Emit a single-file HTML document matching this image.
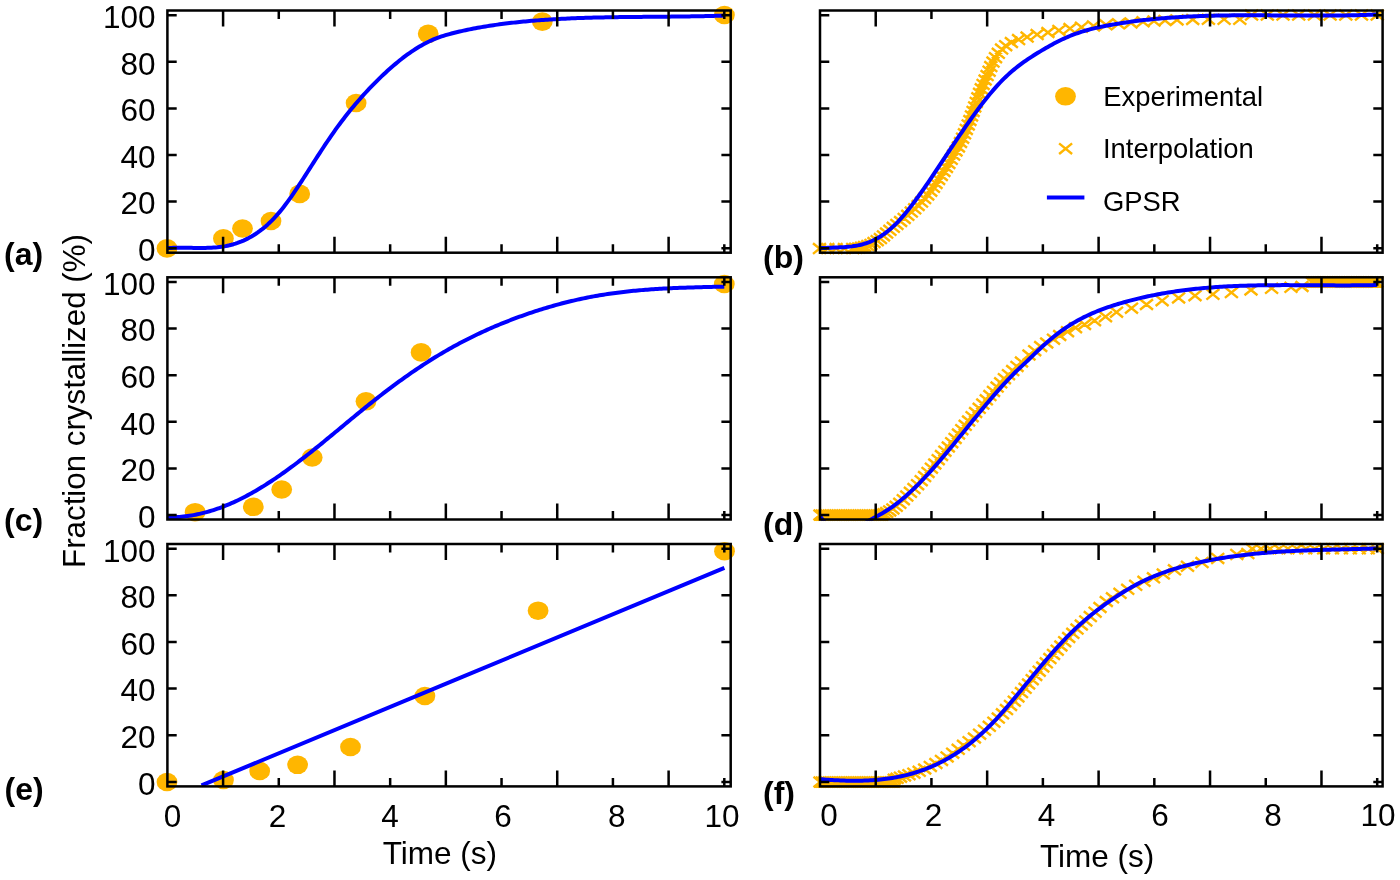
<!DOCTYPE html>
<html><head><meta charset="utf-8"><title>Fraction crystallized vs time</title>
<style>
html,body{margin:0;padding:0;background:#fff;}
svg{display:block;}
text{font-family:"Liberation Sans",Arial,Helvetica,sans-serif;fill:#000;}
</style></head>
<body>
<svg width="1400" height="880" viewBox="0 0 1400 880">
<rect width="1400" height="880" fill="#fff"/>
<defs>
<clipPath id="cl0"><rect x="166.1" y="9.2" width="565.90" height="244.80"/></clipPath>
<clipPath id="cr0"><rect x="818.7" y="9.2" width="565.20" height="244.80"/></clipPath>
<clipPath id="cl1"><rect x="166.1" y="276.0" width="565.90" height="244.80"/></clipPath>
<clipPath id="cr1"><rect x="818.7" y="276.0" width="565.20" height="244.80"/></clipPath>
<clipPath id="cl2"><rect x="166.1" y="542.7" width="565.90" height="245.00"/></clipPath>
<clipPath id="cr2"><rect x="818.7" y="542.7" width="565.20" height="245.00"/></clipPath>
</defs>
<ellipse cx="167.00" cy="248.40" rx="10.4" ry="9.3" fill="#FFB600"/>
<ellipse cx="223.40" cy="238.40" rx="10.4" ry="9.3" fill="#FFB600"/>
<ellipse cx="242.50" cy="228.50" rx="10.4" ry="9.3" fill="#FFB600"/>
<ellipse cx="271.00" cy="221.00" rx="10.4" ry="9.3" fill="#FFB600"/>
<ellipse cx="299.70" cy="193.90" rx="10.4" ry="9.3" fill="#FFB600"/>
<ellipse cx="356.10" cy="103.00" rx="10.4" ry="9.3" fill="#FFB600"/>
<ellipse cx="428.20" cy="33.80" rx="10.4" ry="9.3" fill="#FFB600"/>
<ellipse cx="542.30" cy="21.60" rx="10.4" ry="9.3" fill="#FFB600"/>
<ellipse cx="724.40" cy="15.00" rx="10.4" ry="9.3" fill="#FFB600"/>
<path d="M167.5 248.18L169.5 248.04L171.5 247.93L173.5 247.85L175.5 247.79L177.5 247.75L179.5 247.74L181.5 247.73L183.5 247.74L185.5 247.76L187.5 247.79L189.5 247.82L191.5 247.85L193.5 247.89L195.5 247.92L197.5 247.94L199.5 247.95L201.5 247.96L203.5 247.95L205.5 247.92L207.5 247.87L209.5 247.80L211.5 247.70L213.5 247.58L215.5 247.42L217.5 247.24L219.5 247.01L221.5 246.75L223.5 246.45L225.5 246.10L227.5 245.70L229.5 245.26L231.5 244.76L233.5 244.21L235.5 243.60L237.5 242.93L239.5 242.20L241.5 241.42L243.5 240.56L245.5 239.64L247.5 238.66L249.5 237.60L251.5 236.47L253.5 235.27L255.5 234.00L257.5 232.64L259.5 231.21L261.5 229.70L263.5 228.10L265.5 226.42L267.5 224.66L269.5 222.80L271.5 220.86L273.5 218.82L275.5 216.69L277.5 214.46L279.5 212.14L281.5 209.71L283.5 207.20L285.5 204.59L287.5 201.90L289.5 199.13L291.5 196.30L293.5 193.41L295.5 190.46L297.5 187.47L299.5 184.43L301.5 181.36L303.5 178.27L305.5 175.16L307.5 172.03L309.5 168.90L311.5 165.77L313.5 162.65L315.5 159.54L317.5 156.43L319.5 153.35L321.5 150.28L323.5 147.24L325.5 144.23L327.5 141.25L329.5 138.30L331.5 135.39L333.5 132.53L335.5 129.71L337.5 126.94L339.5 124.23L341.5 121.55L343.5 118.93L345.5 116.34L347.5 113.81L349.5 111.31L351.5 108.86L353.5 106.45L355.5 104.07L357.5 101.74L359.5 99.44L361.5 97.18L363.5 94.96L365.5 92.77L367.5 90.61L369.5 88.49L371.5 86.40L373.5 84.34L375.5 82.31L377.5 80.32L379.5 78.35L381.5 76.43L383.5 74.53L385.5 72.67L387.5 70.84L389.5 69.04L391.5 67.28L393.5 65.55L395.5 63.86L397.5 62.20L399.5 60.57L401.5 58.99L403.5 57.44L405.5 55.94L407.5 54.47L409.5 53.04L411.5 51.66L413.5 50.32L415.5 49.02L417.5 47.76L419.5 46.56L421.5 45.40L423.5 44.28L425.5 43.22L427.5 42.20L429.5 41.24L431.5 40.32L433.5 39.46L435.5 38.65L437.5 37.88L439.5 37.15L441.5 36.47L443.5 35.82L445.5 35.20L447.5 34.62L449.5 34.06L451.5 33.52L453.5 33.01L455.5 32.51L457.5 32.03L459.5 31.56L461.5 31.10L463.5 30.65L465.5 30.21L467.5 29.79L469.5 29.37L471.5 28.97L473.5 28.58L475.5 28.20L477.5 27.82L479.5 27.46L481.5 27.11L483.5 26.76L485.5 26.43L487.5 26.11L489.5 25.79L491.5 25.48L493.5 25.18L495.5 24.89L497.5 24.61L499.5 24.34L501.5 24.07L503.5 23.81L505.5 23.56L507.5 23.31L509.5 23.08L511.5 22.85L513.5 22.62L515.5 22.40L517.5 22.19L519.5 21.98L521.5 21.78L523.5 21.59L525.5 21.40L527.5 21.22L529.5 21.04L531.5 20.86L533.5 20.70L535.5 20.53L537.5 20.38L539.5 20.22L541.5 20.07L543.5 19.93L545.5 19.79L547.5 19.66L549.5 19.53L551.5 19.40L553.5 19.28L555.5 19.16L557.5 19.05L559.5 18.94L561.5 18.83L563.5 18.73L565.5 18.63L567.5 18.54L569.5 18.45L571.5 18.36L573.5 18.28L575.5 18.20L577.5 18.12L579.5 18.05L581.5 17.98L583.5 17.91L585.5 17.85L587.5 17.78L589.5 17.72L591.5 17.67L593.5 17.61L595.5 17.56L597.5 17.51L599.5 17.47L601.5 17.42L603.5 17.38L605.5 17.34L607.5 17.30L609.5 17.27L611.5 17.23L613.5 17.20L615.5 17.17L617.5 17.14L619.5 17.11L621.5 17.08L623.5 17.06L625.5 17.03L627.5 17.01L629.5 16.99L631.5 16.97L633.5 16.95L635.5 16.93L637.5 16.91L639.5 16.89L641.5 16.88L643.5 16.86L645.5 16.84L647.5 16.83L649.5 16.81L651.5 16.79L653.5 16.78L655.5 16.76L657.5 16.75L659.5 16.73L661.5 16.71L663.5 16.70L665.5 16.68L667.5 16.66L669.5 16.64L671.5 16.62L673.5 16.60L675.5 16.58L677.5 16.56L679.5 16.54L681.5 16.51L683.5 16.49L685.5 16.46L687.5 16.43L689.5 16.40L691.5 16.37L693.5 16.34L695.5 16.30L697.5 16.27L699.5 16.23L701.5 16.19L703.5 16.14L705.5 16.10L707.5 16.05L709.5 16.00L711.5 15.95L713.5 15.90L715.5 15.84L717.5 15.78L719.5 15.72L721.5 15.65L723.5 15.58L724.4 15.55" fill="none" stroke="#0000FF" stroke-width="4.0" stroke-linejoin="round" clip-path="url(#cl0)"/>
<rect x="167.4" y="10.5" width="563.30" height="242.20" fill="none" stroke="#000" stroke-width="2.5"/>
<path d="M223.09 10.5v16M223.09 252.7v-16M278.78 10.5v8.5M278.78 252.7v-8.5M334.47 10.5v16M334.47 252.7v-16M390.16 10.5v8.5M390.16 252.7v-8.5M445.85 10.5v16M445.85 252.7v-16M501.54 10.5v8.5M501.54 252.7v-8.5M557.23 10.5v16M557.23 252.7v-16M612.92 10.5v8.5M612.92 252.7v-8.5M668.61 10.5v16M668.61 252.7v-16M724.30 10.5v8.5M724.30 252.7v-8.5M167.4 248.20h9.3M730.7 248.20h-9.3M167.4 201.60h9.3M730.7 201.60h-9.3M167.4 155.00h9.3M730.7 155.00h-9.3M167.4 108.40h9.3M730.7 108.40h-9.3M167.4 61.80h9.3M730.7 61.80h-9.3M167.4 15.20h9.3M730.7 15.20h-9.3" fill="none" stroke="#000" stroke-width="2.5"/>
<ellipse cx="195.10" cy="512.20" rx="10.4" ry="9.3" fill="#FFB600"/>
<ellipse cx="253.30" cy="506.80" rx="10.4" ry="9.3" fill="#FFB600"/>
<ellipse cx="281.70" cy="489.50" rx="10.4" ry="9.3" fill="#FFB600"/>
<ellipse cx="312.20" cy="457.50" rx="10.4" ry="9.3" fill="#FFB600"/>
<ellipse cx="366.00" cy="401.30" rx="10.4" ry="9.3" fill="#FFB600"/>
<ellipse cx="421.10" cy="352.40" rx="10.4" ry="9.3" fill="#FFB600"/>
<ellipse cx="724.30" cy="284.00" rx="10.4" ry="9.3" fill="#FFB600"/>
<path d="M167.5 517.36L169.5 517.37L171.5 517.34L173.5 517.29L175.5 517.21L177.5 517.09L179.5 516.95L181.5 516.77L183.5 516.57L185.5 516.33L187.5 516.07L189.5 515.78L191.5 515.46L193.5 515.11L195.5 514.73L197.5 514.32L199.5 513.89L201.5 513.42L203.5 512.93L205.5 512.41L207.5 511.86L209.5 511.29L211.5 510.69L213.5 510.06L215.5 509.40L217.5 508.72L219.5 508.01L221.5 507.27L223.5 506.51L225.5 505.72L227.5 504.90L229.5 504.06L231.5 503.20L233.5 502.31L235.5 501.39L237.5 500.45L239.5 499.48L241.5 498.49L243.5 497.47L245.5 496.43L247.5 495.37L249.5 494.29L251.5 493.18L253.5 492.05L255.5 490.90L257.5 489.72L259.5 488.53L261.5 487.32L263.5 486.08L265.5 484.83L267.5 483.56L269.5 482.27L271.5 480.96L273.5 479.63L275.5 478.29L277.5 476.93L279.5 475.55L281.5 474.16L283.5 472.75L285.5 471.33L287.5 469.89L289.5 468.43L291.5 466.97L293.5 465.48L295.5 463.99L297.5 462.48L299.5 460.97L301.5 459.43L303.5 457.89L305.5 456.34L307.5 454.78L309.5 453.20L311.5 451.62L313.5 450.03L315.5 448.42L317.5 446.82L319.5 445.20L321.5 443.58L323.5 441.95L325.5 440.31L327.5 438.67L329.5 437.03L331.5 435.38L333.5 433.73L335.5 432.08L337.5 430.42L339.5 428.77L341.5 427.11L343.5 425.45L345.5 423.80L347.5 422.14L349.5 420.49L351.5 418.83L353.5 417.19L355.5 415.54L357.5 413.90L359.5 412.26L361.5 410.63L363.5 409.00L365.5 407.38L367.5 405.77L369.5 404.17L371.5 402.57L373.5 400.98L375.5 399.40L377.5 397.83L379.5 396.27L381.5 394.72L383.5 393.18L385.5 391.65L387.5 390.13L389.5 388.62L391.5 387.12L393.5 385.63L395.5 384.16L397.5 382.69L399.5 381.23L401.5 379.79L403.5 378.35L405.5 376.93L407.5 375.52L409.5 374.12L411.5 372.73L413.5 371.36L415.5 370.00L417.5 368.65L419.5 367.31L421.5 365.98L423.5 364.67L425.5 363.37L427.5 362.08L429.5 360.81L431.5 359.55L433.5 358.30L435.5 357.07L437.5 355.85L439.5 354.65L441.5 353.45L443.5 352.28L445.5 351.11L447.5 349.96L449.5 348.83L451.5 347.70L453.5 346.59L455.5 345.50L457.5 344.41L459.5 343.34L461.5 342.29L463.5 341.24L465.5 340.21L467.5 339.19L469.5 338.18L471.5 337.19L473.5 336.21L475.5 335.24L477.5 334.28L479.5 333.33L481.5 332.40L483.5 331.48L485.5 330.56L487.5 329.66L489.5 328.78L491.5 327.90L493.5 327.03L495.5 326.18L497.5 325.33L499.5 324.50L501.5 323.68L503.5 322.86L505.5 322.06L507.5 321.27L509.5 320.49L511.5 319.72L513.5 318.95L515.5 318.20L517.5 317.46L519.5 316.73L521.5 316.01L523.5 315.29L525.5 314.59L527.5 313.90L529.5 313.21L531.5 312.54L533.5 311.87L535.5 311.21L537.5 310.57L539.5 309.93L541.5 309.30L543.5 308.68L545.5 308.08L547.5 307.48L549.5 306.89L551.5 306.31L553.5 305.74L555.5 305.18L557.5 304.63L559.5 304.09L561.5 303.55L563.5 303.03L565.5 302.52L567.5 302.02L569.5 301.53L571.5 301.05L573.5 300.57L575.5 300.11L577.5 299.66L579.5 299.21L581.5 298.78L583.5 298.36L585.5 297.94L587.5 297.54L589.5 297.15L591.5 296.76L593.5 296.39L595.5 296.03L597.5 295.67L599.5 295.33L601.5 295.00L603.5 294.67L605.5 294.36L607.5 294.05L609.5 293.75L611.5 293.47L613.5 293.19L615.5 292.92L617.5 292.66L619.5 292.40L621.5 292.16L623.5 291.92L625.5 291.69L627.5 291.47L629.5 291.26L631.5 291.05L633.5 290.85L635.5 290.66L637.5 290.47L639.5 290.29L641.5 290.12L643.5 289.95L645.5 289.79L647.5 289.64L649.5 289.49L651.5 289.35L653.5 289.21L655.5 289.08L657.5 288.96L659.5 288.84L661.5 288.72L663.5 288.61L665.5 288.50L667.5 288.40L669.5 288.30L671.5 288.21L673.5 288.11L675.5 288.03L677.5 287.95L679.5 287.87L681.5 287.79L683.5 287.72L685.5 287.65L687.5 287.58L689.5 287.51L691.5 287.45L693.5 287.39L695.5 287.33L697.5 287.27L699.5 287.22L701.5 287.17L703.5 287.12L705.5 287.07L707.5 287.02L709.5 286.97L711.5 286.92L713.5 286.87L715.5 286.83L717.5 286.78L719.5 286.74L721.5 286.69L723.5 286.64L724.3 286.62" fill="none" stroke="#0000FF" stroke-width="4.0" stroke-linejoin="round" clip-path="url(#cl1)"/>
<rect x="167.4" y="277.3" width="563.30" height="242.20" fill="none" stroke="#000" stroke-width="2.5"/>
<path d="M223.09 277.3v16M223.09 519.5v-16M278.78 277.3v8.5M278.78 519.5v-8.5M334.47 277.3v16M334.47 519.5v-16M390.16 277.3v8.5M390.16 519.5v-8.5M445.85 277.3v16M445.85 519.5v-16M501.54 277.3v8.5M501.54 519.5v-8.5M557.23 277.3v16M557.23 519.5v-16M612.92 277.3v8.5M612.92 519.5v-8.5M668.61 277.3v16M668.61 519.5v-16M724.30 277.3v8.5M724.30 519.5v-8.5M167.4 515.00h9.3M730.7 515.00h-9.3M167.4 468.40h9.3M730.7 468.40h-9.3M167.4 421.80h9.3M730.7 421.80h-9.3M167.4 375.20h9.3M730.7 375.20h-9.3M167.4 328.60h9.3M730.7 328.60h-9.3M167.4 282.00h9.3M730.7 282.00h-9.3" fill="none" stroke="#000" stroke-width="2.5"/>
<ellipse cx="167.00" cy="782.00" rx="10.4" ry="9.3" fill="#FFB600"/>
<ellipse cx="223.50" cy="780.00" rx="10.4" ry="9.3" fill="#FFB600"/>
<ellipse cx="259.70" cy="771.00" rx="10.4" ry="9.3" fill="#FFB600"/>
<ellipse cx="297.60" cy="764.80" rx="10.4" ry="9.3" fill="#FFB600"/>
<ellipse cx="350.50" cy="747.00" rx="10.4" ry="9.3" fill="#FFB600"/>
<ellipse cx="424.90" cy="696.00" rx="10.4" ry="9.3" fill="#FFB600"/>
<ellipse cx="538.10" cy="610.70" rx="10.4" ry="9.3" fill="#FFB600"/>
<ellipse cx="724.50" cy="551.20" rx="10.4" ry="9.3" fill="#FFB600"/>
<path d="M201.50 785.40C288.65 749.15 637.25 604.15 724.40 567.90" fill="none" stroke="#0000FF" stroke-width="4.0" stroke-linejoin="round" clip-path="url(#cl2)"/>
<rect x="167.4" y="544.0" width="563.30" height="242.40" fill="none" stroke="#000" stroke-width="2.5"/>
<path d="M223.09 544.0v16M223.09 786.4v-16M278.78 544.0v8.5M278.78 786.4v-8.5M334.47 544.0v16M334.47 786.4v-16M390.16 544.0v8.5M390.16 786.4v-8.5M445.85 544.0v16M445.85 786.4v-16M501.54 544.0v8.5M501.54 786.4v-8.5M557.23 544.0v16M557.23 786.4v-16M612.92 544.0v8.5M612.92 786.4v-8.5M668.61 544.0v16M668.61 786.4v-16M724.30 544.0v8.5M724.30 786.4v-8.5M167.4 781.90h9.3M730.7 781.90h-9.3M167.4 735.26h9.3M730.7 735.26h-9.3M167.4 688.62h9.3M730.7 688.62h-9.3M167.4 641.98h9.3M730.7 641.98h-9.3M167.4 595.34h9.3M730.7 595.34h-9.3M167.4 548.70h9.3M730.7 548.70h-9.3" fill="none" stroke="#000" stroke-width="2.5"/>
<path d="M813.0 243.3l13.0 10.6m0 -10.6l-13.0 10.6M821.3 243.3l13.0 10.6m0 -10.6l-13.0 10.6M829.6 243.3l13.0 10.6m0 -10.6l-13.0 10.6M837.9 243.3l13.0 10.6m0 -10.6l-13.0 10.6M846.2 243.1l13.0 10.6m0 -10.6l-13.0 10.6M849.2 242.9l13.0 10.6m0 -10.6l-13.0 10.6M852.2 242.6l13.0 10.6m0 -10.6l-13.0 10.6M855.1 241.9l13.0 10.6m0 -10.6l-13.0 10.6M858.1 241.1l13.0 10.6m0 -10.6l-13.0 10.6M861.3 240.3l13.0 10.6m0 -10.6l-13.0 10.6M864.5 239.1l13.0 10.6m0 -10.6l-13.0 10.6M867.5 237.3l13.0 10.6m0 -10.6l-13.0 10.6M870.7 235.4l13.0 10.6m0 -10.6l-13.0 10.6M873.9 233.3l13.0 10.6m0 -10.6l-13.0 10.6M877.0 230.6l13.0 10.6m0 -10.6l-13.0 10.6M880.1 227.8l13.0 10.6m0 -10.6l-13.0 10.6M883.4 225.0l13.0 10.6m0 -10.6l-13.0 10.6M886.8 222.0l13.0 10.6m0 -10.6l-13.0 10.6M890.4 219.1l13.0 10.6m0 -10.6l-13.0 10.6M894.1 216.2l13.0 10.6m0 -10.6l-13.0 10.6M897.7 213.1l13.0 10.6m0 -10.6l-13.0 10.6M901.3 210.0l13.0 10.6m0 -10.6l-13.0 10.6M904.8 206.8l13.0 10.6m0 -10.6l-13.0 10.6M908.2 203.5l13.0 10.6m0 -10.6l-13.0 10.6M911.6 200.2l13.0 10.6m0 -10.6l-13.0 10.6M915.0 196.8l13.0 10.6m0 -10.6l-13.0 10.6M918.1 193.3l13.0 10.6m0 -10.6l-13.0 10.6M921.2 189.7l13.0 10.6m0 -10.6l-13.0 10.6M924.2 185.9l13.0 10.6m0 -10.6l-13.0 10.6M926.9 182.0l13.0 10.6m0 -10.6l-13.0 10.6M929.5 178.1l13.0 10.6m0 -10.6l-13.0 10.6M932.1 174.1l13.0 10.6m0 -10.6l-13.0 10.6M934.8 170.2l13.0 10.6m0 -10.6l-13.0 10.6M937.4 166.2l13.0 10.6m0 -10.6l-13.0 10.6M939.9 162.2l13.0 10.6m0 -10.6l-13.0 10.6M942.3 158.1l13.0 10.6m0 -10.6l-13.0 10.6M944.7 154.0l13.0 10.6m0 -10.6l-13.0 10.6M947.1 149.8l13.0 10.6m0 -10.6l-13.0 10.6M949.5 145.7l13.0 10.6m0 -10.6l-13.0 10.6M951.9 141.6l13.0 10.6m0 -10.6l-13.0 10.6M954.0 137.2l13.0 10.6m0 -10.6l-13.0 10.6M956.1 132.9l13.0 10.6m0 -10.6l-13.0 10.6M958.0 128.5l13.0 10.6m0 -10.6l-13.0 10.6M959.8 124.1l13.0 10.6m0 -10.6l-13.0 10.6M961.7 119.6l13.0 10.6m0 -10.6l-13.0 10.6M963.4 115.2l13.0 10.6m0 -10.6l-13.0 10.6M965.0 110.6l13.0 10.6m0 -10.6l-13.0 10.6M966.6 106.1l13.0 10.6m0 -10.6l-13.0 10.6M968.2 101.6l13.0 10.6m0 -10.6l-13.0 10.6M969.8 97.1l13.0 10.6m0 -10.6l-13.0 10.6M971.4 92.5l13.0 10.6m0 -10.6l-13.0 10.6M973.1 88.0l13.0 10.6m0 -10.6l-13.0 10.6M974.8 83.5l13.0 10.6m0 -10.6l-13.0 10.6M976.6 79.1l13.0 10.6m0 -10.6l-13.0 10.6M978.6 74.7l13.0 10.6m0 -10.6l-13.0 10.6M980.6 70.3l13.0 10.6m0 -10.6l-13.0 10.6M982.6 65.9l13.0 10.6m0 -10.6l-13.0 10.6M984.3 61.3l13.0 10.6m0 -10.6l-13.0 10.6M986.5 56.8l13.0 10.6m0 -10.6l-13.0 10.6M989.0 52.4l13.0 10.6m0 -10.6l-13.0 10.6M991.8 48.0l13.0 10.6m0 -10.6l-13.0 10.6M995.1 43.8l13.0 10.6m0 -10.6l-13.0 10.6M999.2 40.4l13.0 10.6m0 -10.6l-13.0 10.6M1004.9 37.2l13.0 10.6m0 -10.6l-13.0 10.6M1012.1 34.3l13.0 10.6m0 -10.6l-13.0 10.6M1020.6 31.8l13.0 10.6m0 -10.6l-13.0 10.6M1030.6 29.3l13.0 10.6m0 -10.6l-13.0 10.6M1041.4 27.2l13.0 10.6m0 -10.6l-13.0 10.6M1052.4 25.1l13.0 10.6m0 -10.6l-13.0 10.6M1063.5 23.3l13.0 10.6m0 -10.6l-13.0 10.6M1075.0 21.9l13.0 10.6m0 -10.6l-13.0 10.6M1087.0 20.6l13.0 10.6m0 -10.6l-13.0 10.6M1099.5 19.5l13.0 10.6m0 -10.6l-13.0 10.6M1112.0 18.5l13.0 10.6m0 -10.6l-13.0 10.6M1124.5 17.6l13.0 10.6m0 -10.6l-13.0 10.6M1136.5 16.5l13.0 10.6m0 -10.6l-13.0 10.6M1147.5 15.8l13.0 10.6m0 -10.6l-13.0 10.6M1158.5 15.1l13.0 10.6m0 -10.6l-13.0 10.6M1170.5 14.6l13.0 10.6m0 -10.6l-13.0 10.6M1186.2 14.2l13.0 10.6m0 -10.6l-13.0 10.6M1201.9 14.0l13.0 10.6m0 -10.6l-13.0 10.6M1217.6 14.0l13.0 10.6m0 -10.6l-13.0 10.6M1233.3 14.0l13.0 10.6m0 -10.6l-13.0 10.6M1370.7 9.8l13.0 10.6m0 -10.6l-13.0 10.6M1355.0 9.8l13.0 10.6m0 -10.6l-13.0 10.6M1339.3 9.8l13.0 10.6m0 -10.6l-13.0 10.6M1323.6 9.8l13.0 10.6m0 -10.6l-13.0 10.6M1307.9 9.8l13.0 10.6m0 -10.6l-13.0 10.6M1292.2 9.8l13.0 10.6m0 -10.6l-13.0 10.6M1276.5 9.8l13.0 10.6m0 -10.6l-13.0 10.6M1260.8 9.8l13.0 10.6m0 -10.6l-13.0 10.6M1245.1 9.8l13.0 10.6m0 -10.6l-13.0 10.6" fill="none" stroke="#FFB600" stroke-width="2.4"/>
<path d="M819.9 248.23L821.9 248.09L823.9 247.98L825.9 247.89L827.9 247.80L829.9 247.73L831.9 247.67L833.9 247.60L835.9 247.53L837.9 247.46L839.9 247.37L841.9 247.27L843.9 247.15L845.9 247.00L847.9 246.83L849.9 246.62L851.9 246.38L853.9 246.09L855.9 245.76L857.9 245.38L859.9 244.95L861.9 244.46L863.9 243.90L865.9 243.28L867.9 242.59L869.9 241.82L871.9 240.98L873.9 240.05L875.9 239.04L877.9 237.94L879.9 236.75L881.9 235.46L883.9 234.08L885.9 232.61L887.9 231.04L889.9 229.38L891.9 227.62L893.9 225.77L895.9 223.83L897.9 221.80L899.9 219.67L901.9 217.45L903.9 215.14L905.9 212.75L907.9 210.29L909.9 207.75L911.9 205.15L913.9 202.49L915.9 199.78L917.9 197.03L919.9 194.24L921.9 191.41L923.9 188.55L925.9 185.67L927.9 182.76L929.9 179.84L931.9 176.89L933.9 173.92L935.9 170.95L937.9 167.96L939.9 164.96L941.9 161.95L943.9 158.94L945.9 155.93L947.9 152.91L949.9 149.90L951.9 146.90L953.9 143.90L955.9 140.92L957.9 137.94L959.9 134.98L961.9 132.04L963.9 129.12L965.9 126.22L967.9 123.35L969.9 120.50L971.9 117.69L973.9 114.90L975.9 112.15L977.9 109.44L979.9 106.77L981.9 104.14L983.9 101.55L985.9 99.01L987.9 96.53L989.9 94.09L991.9 91.70L993.9 89.38L995.9 87.11L997.9 84.91L999.9 82.76L1001.9 80.69L1003.9 78.68L1005.9 76.75L1007.9 74.88L1009.9 73.08L1011.9 71.33L1013.9 69.65L1015.9 68.02L1017.9 66.44L1019.9 64.91L1021.9 63.43L1023.9 61.99L1025.9 60.59L1027.9 59.22L1029.9 57.89L1031.9 56.58L1033.9 55.30L1035.9 54.05L1037.9 52.82L1039.9 51.60L1041.9 50.40L1043.9 49.22L1045.9 48.05L1047.9 46.90L1049.9 45.78L1051.9 44.68L1053.9 43.60L1055.9 42.55L1057.9 41.52L1059.9 40.52L1061.9 39.56L1063.9 38.62L1065.9 37.72L1067.9 36.85L1069.9 36.02L1071.9 35.22L1073.9 34.46L1075.9 33.73L1077.9 33.03L1079.9 32.36L1081.9 31.72L1083.9 31.11L1085.9 30.52L1087.9 29.96L1089.9 29.42L1091.9 28.90L1093.9 28.41L1095.9 27.93L1097.9 27.48L1099.9 27.04L1101.9 26.62L1103.9 26.21L1105.9 25.82L1107.9 25.44L1109.9 25.07L1111.9 24.71L1113.9 24.36L1115.9 24.02L1117.9 23.69L1119.9 23.37L1121.9 23.05L1123.9 22.75L1125.9 22.45L1127.9 22.16L1129.9 21.87L1131.9 21.60L1133.9 21.33L1135.9 21.07L1137.9 20.81L1139.9 20.57L1141.9 20.33L1143.9 20.10L1145.9 19.87L1147.9 19.65L1149.9 19.44L1151.9 19.24L1153.9 19.04L1155.9 18.85L1157.9 18.66L1159.9 18.48L1161.9 18.31L1163.9 18.14L1165.9 17.98L1167.9 17.83L1169.9 17.68L1171.9 17.54L1173.9 17.40L1175.9 17.27L1177.9 17.14L1179.9 17.02L1181.9 16.90L1183.9 16.79L1185.9 16.68L1187.9 16.58L1189.9 16.48L1191.9 16.39L1193.9 16.30L1195.9 16.22L1197.9 16.14L1199.9 16.07L1201.9 16.00L1203.9 15.93L1205.9 15.87L1207.9 15.81L1209.9 15.75L1211.9 15.70L1213.9 15.66L1215.9 15.61L1217.9 15.57L1219.9 15.53L1221.9 15.50L1223.9 15.47L1225.9 15.44L1227.9 15.41L1229.9 15.39L1231.9 15.37L1233.9 15.35L1235.9 15.34L1237.9 15.33L1239.9 15.32L1241.9 15.31L1243.9 15.30L1245.9 15.30L1247.9 15.30L1249.9 15.30L1251.9 15.30L1253.9 15.30L1255.9 15.30L1257.9 15.31L1259.9 15.32L1261.9 15.33L1263.9 15.33L1265.9 15.34L1267.9 15.36L1269.9 15.37L1271.9 15.38L1273.9 15.39L1275.9 15.41L1277.9 15.42L1279.9 15.43L1281.9 15.45L1283.9 15.46L1285.9 15.48L1287.9 15.49L1289.9 15.51L1291.9 15.52L1293.9 15.53L1295.9 15.55L1297.9 15.56L1299.9 15.57L1301.9 15.58L1303.9 15.59L1305.9 15.60L1307.9 15.60L1309.9 15.61L1311.9 15.62L1313.9 15.62L1315.9 15.62L1317.9 15.62L1319.9 15.62L1321.9 15.62L1323.9 15.61L1325.9 15.60L1327.9 15.59L1329.9 15.58L1331.9 15.57L1333.9 15.55L1335.9 15.53L1337.9 15.51L1339.9 15.49L1341.9 15.46L1343.9 15.43L1345.9 15.40L1347.9 15.36L1349.9 15.32L1351.9 15.28L1353.9 15.23L1355.9 15.18L1357.9 15.13L1359.9 15.07L1361.9 15.01L1363.9 14.95L1365.9 14.88L1367.9 14.81L1369.9 14.73L1371.9 14.65L1373.9 14.56L1375.9 14.47L1377.2 14.41" fill="none" stroke="#0000FF" stroke-width="4.0" stroke-linejoin="round" clip-path="url(#cr0)"/>
<rect x="820.0" y="10.5" width="562.60" height="242.20" fill="none" stroke="#000" stroke-width="2.5"/>
<path d="M875.72 10.5v16M875.72 252.7v-16M931.44 10.5v8.5M931.44 252.7v-8.5M987.16 10.5v16M987.16 252.7v-16M1042.88 10.5v8.5M1042.88 252.7v-8.5M1098.60 10.5v16M1098.60 252.7v-16M1154.32 10.5v8.5M1154.32 252.7v-8.5M1210.04 10.5v16M1210.04 252.7v-16M1265.76 10.5v8.5M1265.76 252.7v-8.5M1321.48 10.5v16M1321.48 252.7v-16M1377.20 10.5v8.5M1377.20 252.7v-8.5M820.0 248.20h9.3M1382.6 248.20h-9.3M820.0 201.60h9.3M1382.6 201.60h-9.3M820.0 155.00h9.3M1382.6 155.00h-9.3M820.0 108.40h9.3M1382.6 108.40h-9.3M820.0 61.80h9.3M1382.6 61.80h-9.3M820.0 15.20h9.3M1382.6 15.20h-9.3" fill="none" stroke="#000" stroke-width="2.5"/>
<path d="M813.5 509.7l13.0 10.6m0 -10.6l-13.0 10.6M815.8 509.7l13.0 10.6m0 -10.6l-13.0 10.6M818.1 509.7l13.0 10.6m0 -10.6l-13.0 10.6M820.4 509.7l13.0 10.6m0 -10.6l-13.0 10.6M822.7 509.7l13.0 10.6m0 -10.6l-13.0 10.6M825.0 509.7l13.0 10.6m0 -10.6l-13.0 10.6M827.3 509.7l13.0 10.6m0 -10.6l-13.0 10.6M829.6 509.7l13.0 10.6m0 -10.6l-13.0 10.6M831.9 509.7l13.0 10.6m0 -10.6l-13.0 10.6M834.2 509.7l13.0 10.6m0 -10.6l-13.0 10.6M836.5 509.7l13.0 10.6m0 -10.6l-13.0 10.6M838.8 509.7l13.0 10.6m0 -10.6l-13.0 10.6M841.1 509.7l13.0 10.6m0 -10.6l-13.0 10.6M843.4 509.7l13.0 10.6m0 -10.6l-13.0 10.6M845.7 509.7l13.0 10.6m0 -10.6l-13.0 10.6M848.0 509.7l13.0 10.6m0 -10.6l-13.0 10.6M850.3 509.7l13.0 10.6m0 -10.6l-13.0 10.6M852.6 509.7l13.0 10.6m0 -10.6l-13.0 10.6M854.9 509.7l13.0 10.6m0 -10.6l-13.0 10.6M857.2 509.7l13.0 10.6m0 -10.6l-13.0 10.6M859.5 509.7l13.0 10.6m0 -10.6l-13.0 10.6M861.8 509.7l13.0 10.6m0 -10.6l-13.0 10.6M864.1 509.7l13.0 10.6m0 -10.6l-13.0 10.6M866.4 509.7l13.0 10.6m0 -10.6l-13.0 10.6M868.7 509.7l13.0 10.6m0 -10.6l-13.0 10.6M871.0 509.7l13.0 10.6m0 -10.6l-13.0 10.6M873.3 509.7l13.0 10.6m0 -10.6l-13.0 10.6M875.6 509.7l13.0 10.6m0 -10.6l-13.0 10.6M877.5 508.5l13.0 10.6m0 -10.6l-13.0 10.6M880.2 507.2l13.0 10.6m0 -10.6l-13.0 10.6M883.2 505.6l13.0 10.6m0 -10.6l-13.0 10.6M886.4 503.6l13.0 10.6m0 -10.6l-13.0 10.6M889.7 501.0l13.0 10.6m0 -10.6l-13.0 10.6M893.3 498.0l13.0 10.6m0 -10.6l-13.0 10.6M896.8 494.4l13.0 10.6m0 -10.6l-13.0 10.6M900.3 490.8l13.0 10.6m0 -10.6l-13.0 10.6M903.9 487.0l13.0 10.6m0 -10.6l-13.0 10.6M907.5 483.3l13.0 10.6m0 -10.6l-13.0 10.6M911.1 479.4l13.0 10.6m0 -10.6l-13.0 10.6M914.7 475.4l13.0 10.6m0 -10.6l-13.0 10.6M918.1 471.3l13.0 10.6m0 -10.6l-13.0 10.6M921.5 467.1l13.0 10.6m0 -10.6l-13.0 10.6M924.9 462.9l13.0 10.6m0 -10.6l-13.0 10.6M928.3 458.7l13.0 10.6m0 -10.6l-13.0 10.6M931.7 454.4l13.0 10.6m0 -10.6l-13.0 10.6M935.0 450.2l13.0 10.6m0 -10.6l-13.0 10.6M938.4 445.9l13.0 10.6m0 -10.6l-13.0 10.6M941.8 441.7l13.0 10.6m0 -10.6l-13.0 10.6M945.2 437.4l13.0 10.6m0 -10.6l-13.0 10.6M948.6 433.1l13.0 10.6m0 -10.6l-13.0 10.6M952.0 428.7l13.0 10.6m0 -10.6l-13.0 10.6M955.3 424.4l13.0 10.6m0 -10.6l-13.0 10.6M958.7 420.0l13.0 10.6m0 -10.6l-13.0 10.6M962.1 415.7l13.0 10.6m0 -10.6l-13.0 10.6M965.6 411.4l13.0 10.6m0 -10.6l-13.0 10.6M969.1 407.2l13.0 10.6m0 -10.6l-13.0 10.6M972.7 403.0l13.0 10.6m0 -10.6l-13.0 10.6M976.3 398.8l13.0 10.6m0 -10.6l-13.0 10.6M979.8 394.5l13.0 10.6m0 -10.6l-13.0 10.6M983.4 390.3l13.0 10.6m0 -10.6l-13.0 10.6M987.0 386.1l13.0 10.6m0 -10.6l-13.0 10.6M990.6 381.8l13.0 10.6m0 -10.6l-13.0 10.6M994.2 377.5l13.0 10.6m0 -10.6l-13.0 10.6M997.9 373.4l13.0 10.6m0 -10.6l-13.0 10.6M1002.0 369.4l13.0 10.6m0 -10.6l-13.0 10.6M1006.2 365.3l13.0 10.6m0 -10.6l-13.0 10.6M1010.5 361.1l13.0 10.6m0 -10.6l-13.0 10.6M1015.0 356.7l13.0 10.6m0 -10.6l-13.0 10.6M1305.5 276.8l13.0 10.6m0 -10.6l-13.0 10.6M1307.9 276.8l13.0 10.6m0 -10.6l-13.0 10.6M1310.3 276.8l13.0 10.6m0 -10.6l-13.0 10.6M1312.7 276.8l13.0 10.6m0 -10.6l-13.0 10.6M1315.1 276.8l13.0 10.6m0 -10.6l-13.0 10.6M1317.5 276.8l13.0 10.6m0 -10.6l-13.0 10.6M1319.9 276.8l13.0 10.6m0 -10.6l-13.0 10.6M1322.3 276.8l13.0 10.6m0 -10.6l-13.0 10.6M1324.7 276.8l13.0 10.6m0 -10.6l-13.0 10.6M1327.1 276.8l13.0 10.6m0 -10.6l-13.0 10.6M1329.5 276.8l13.0 10.6m0 -10.6l-13.0 10.6M1331.9 276.8l13.0 10.6m0 -10.6l-13.0 10.6M1334.3 276.8l13.0 10.6m0 -10.6l-13.0 10.6M1336.7 276.8l13.0 10.6m0 -10.6l-13.0 10.6M1339.1 276.8l13.0 10.6m0 -10.6l-13.0 10.6M1341.5 276.8l13.0 10.6m0 -10.6l-13.0 10.6M1343.9 276.8l13.0 10.6m0 -10.6l-13.0 10.6M1346.3 276.8l13.0 10.6m0 -10.6l-13.0 10.6M1348.7 276.8l13.0 10.6m0 -10.6l-13.0 10.6M1351.1 276.8l13.0 10.6m0 -10.6l-13.0 10.6M1353.5 276.8l13.0 10.6m0 -10.6l-13.0 10.6M1355.9 276.8l13.0 10.6m0 -10.6l-13.0 10.6M1358.3 276.8l13.0 10.6m0 -10.6l-13.0 10.6M1360.7 276.8l13.0 10.6m0 -10.6l-13.0 10.6M1363.1 276.8l13.0 10.6m0 -10.6l-13.0 10.6M1365.5 276.8l13.0 10.6m0 -10.6l-13.0 10.6M1367.9 276.8l13.0 10.6m0 -10.6l-13.0 10.6M1370.3 276.8l13.0 10.6m0 -10.6l-13.0 10.6M1022.5 349.7l13.0 10.6m0 -10.6l-13.0 10.6M1028.2 345.4l13.0 10.6m0 -10.6l-13.0 10.6M1034.2 341.2l13.0 10.6m0 -10.6l-13.0 10.6M1040.2 337.7l13.0 10.6m0 -10.6l-13.0 10.6M1047.0 333.9l13.0 10.6m0 -10.6l-13.0 10.6M1053.2 330.2l13.0 10.6m0 -10.6l-13.0 10.6M1061.0 326.4l13.0 10.6m0 -10.6l-13.0 10.6M1069.0 322.4l13.0 10.6m0 -10.6l-13.0 10.6M1078.0 319.2l13.0 10.6m0 -10.6l-13.0 10.6M1088.0 315.4l13.0 10.6m0 -10.6l-13.0 10.6M1099.0 311.4l13.0 10.6m0 -10.6l-13.0 10.6M1110.0 306.9l13.0 10.6m0 -10.6l-13.0 10.6M1125.0 302.9l13.0 10.6m0 -10.6l-13.0 10.6M1140.0 299.2l13.0 10.6m0 -10.6l-13.0 10.6M1155.6 295.4l13.0 10.6m0 -10.6l-13.0 10.6M1172.1 292.6l13.0 10.6m0 -10.6l-13.0 10.6M1188.5 290.4l13.0 10.6m0 -10.6l-13.0 10.6M1206.4 289.0l13.0 10.6m0 -10.6l-13.0 10.6M1224.9 287.3l13.0 10.6m0 -10.6l-13.0 10.6M1244.5 284.7l13.0 10.6m0 -10.6l-13.0 10.6M1265.1 283.0l13.0 10.6m0 -10.6l-13.0 10.6M1284.5 282.0l13.0 10.6m0 -10.6l-13.0 10.6M1295.5 281.2l13.0 10.6m0 -10.6l-13.0 10.6" fill="none" stroke="#FFB600" stroke-width="2.4"/>
<path d="M820.0 516.33L822.0 518.83L824.0 521.55L826.0 524.31L828.0 526.94L830.0 529.28L832.0 531.18L834.0 532.64L836.0 533.71L838.0 534.40L840.0 534.74L842.0 534.78L844.0 534.54L846.0 534.05L848.0 533.34L850.0 532.45L852.0 531.41L854.0 530.24L856.0 528.99L858.0 527.67L860.0 526.33L862.0 524.98L864.0 523.68L866.0 522.43L868.0 521.24L870.0 520.09L872.0 518.97L874.0 517.87L876.0 516.78L878.0 515.68L880.0 514.57L882.0 513.44L884.0 512.26L886.0 511.03L888.0 509.75L890.0 508.42L892.0 507.03L894.0 505.58L896.0 504.09L898.0 502.55L900.0 500.95L902.0 499.31L904.0 497.62L906.0 495.89L908.0 494.10L910.0 492.28L912.0 490.41L914.0 488.50L916.0 486.55L918.0 484.56L920.0 482.53L922.0 480.46L924.0 478.36L926.0 476.22L928.0 474.05L930.0 471.86L932.0 469.63L934.0 467.38L936.0 465.10L938.0 462.80L940.0 460.47L942.0 458.13L944.0 455.76L946.0 453.38L948.0 450.99L950.0 448.57L952.0 446.15L954.0 443.72L956.0 441.27L958.0 438.82L960.0 436.36L962.0 433.90L964.0 431.43L966.0 428.97L968.0 426.50L970.0 424.03L972.0 421.57L974.0 419.12L976.0 416.67L978.0 414.23L980.0 411.79L982.0 409.37L984.0 406.97L986.0 404.57L988.0 402.20L990.0 399.84L992.0 397.50L994.0 395.18L996.0 392.89L998.0 390.62L1000.0 388.37L1002.0 386.16L1004.0 383.97L1006.0 381.81L1008.0 379.69L1010.0 377.60L1012.0 375.54L1014.0 373.52L1016.0 371.54L1018.0 369.61L1020.0 367.71L1022.0 365.85L1024.0 364.01L1026.0 362.15L1028.0 360.25L1030.0 358.29L1032.0 356.32L1034.0 354.36L1036.0 352.44L1038.0 350.54L1040.0 348.67L1042.0 346.82L1044.0 345.01L1046.0 343.23L1048.0 341.49L1050.0 339.78L1052.0 338.11L1054.0 336.48L1056.0 334.89L1058.0 333.35L1060.0 331.85L1062.0 330.39L1064.0 328.99L1066.0 327.62L1068.0 326.30L1070.0 325.02L1072.0 323.79L1074.0 322.59L1076.0 321.43L1078.0 320.31L1080.0 319.22L1082.0 318.17L1084.0 317.16L1086.0 316.18L1088.0 315.23L1090.0 314.31L1092.0 313.42L1094.0 312.56L1096.0 311.72L1098.0 310.91L1100.0 310.13L1102.0 309.37L1104.0 308.63L1106.0 307.92L1108.0 307.22L1110.0 306.55L1112.0 305.89L1114.0 305.25L1116.0 304.63L1118.0 304.02L1120.0 303.42L1122.0 302.84L1124.0 302.27L1126.0 301.71L1128.0 301.16L1130.0 300.63L1132.0 300.11L1134.0 299.59L1136.0 299.09L1138.0 298.61L1140.0 298.13L1142.0 297.66L1144.0 297.21L1146.0 296.76L1148.0 296.33L1150.0 295.91L1152.0 295.50L1154.0 295.09L1156.0 294.70L1158.0 294.32L1160.0 293.95L1162.0 293.59L1164.0 293.24L1166.0 292.90L1168.0 292.56L1170.0 292.24L1172.0 291.93L1174.0 291.62L1176.0 291.32L1178.0 291.04L1180.0 290.76L1182.0 290.49L1184.0 290.23L1186.0 289.98L1188.0 289.73L1190.0 289.49L1192.0 289.27L1194.0 289.04L1196.0 288.83L1198.0 288.63L1200.0 288.43L1202.0 288.24L1204.0 288.05L1206.0 287.88L1208.0 287.71L1210.0 287.54L1212.0 287.39L1214.0 287.24L1216.0 287.09L1218.0 286.96L1220.0 286.83L1222.0 286.70L1224.0 286.58L1226.0 286.47L1228.0 286.36L1230.0 286.26L1232.0 286.16L1234.0 286.07L1236.0 285.99L1238.0 285.90L1240.0 285.83L1242.0 285.76L1244.0 285.69L1246.0 285.63L1248.0 285.57L1250.0 285.51L1252.0 285.46L1254.0 285.42L1256.0 285.38L1258.0 285.34L1260.0 285.30L1262.0 285.27L1264.0 285.24L1266.0 285.22L1268.0 285.20L1270.0 285.18L1272.0 285.16L1274.0 285.15L1276.0 285.14L1278.0 285.13L1280.0 285.13L1282.0 285.12L1284.0 285.12L1286.0 285.12L1288.0 285.12L1290.0 285.13L1292.0 285.13L1294.0 285.14L1296.0 285.15L1298.0 285.16L1300.0 285.17L1302.0 285.18L1304.0 285.19L1306.0 285.20L1308.0 285.21L1310.0 285.23L1312.0 285.24L1314.0 285.26L1316.0 285.27L1318.0 285.28L1320.0 285.30L1322.0 285.31L1324.0 285.32L1326.0 285.33L1328.0 285.34L1330.0 285.35L1332.0 285.36L1334.0 285.37L1336.0 285.38L1338.0 285.38L1340.0 285.39L1342.0 285.39L1344.0 285.39L1346.0 285.39L1348.0 285.38L1350.0 285.38L1352.0 285.37L1354.0 285.36L1356.0 285.35L1358.0 285.33L1360.0 285.31L1362.0 285.29L1364.0 285.27L1366.0 285.24L1368.0 285.21L1370.0 285.17L1372.0 285.13L1374.0 285.09L1376.0 285.05L1377.2 285.02" fill="none" stroke="#0000FF" stroke-width="4.0" stroke-linejoin="round" clip-path="url(#cr1)"/>
<rect x="820.0" y="277.3" width="562.60" height="242.20" fill="none" stroke="#000" stroke-width="2.5"/>
<path d="M875.72 277.3v16M875.72 519.5v-16M931.44 277.3v8.5M931.44 519.5v-8.5M987.16 277.3v16M987.16 519.5v-16M1042.88 277.3v8.5M1042.88 519.5v-8.5M1098.60 277.3v16M1098.60 519.5v-16M1154.32 277.3v8.5M1154.32 519.5v-8.5M1210.04 277.3v16M1210.04 519.5v-16M1265.76 277.3v8.5M1265.76 519.5v-8.5M1321.48 277.3v16M1321.48 519.5v-16M1377.20 277.3v8.5M1377.20 519.5v-8.5M820.0 515.00h9.3M1382.6 515.00h-9.3M820.0 468.40h9.3M1382.6 468.40h-9.3M820.0 421.80h9.3M1382.6 421.80h-9.3M820.0 375.20h9.3M1382.6 375.20h-9.3M820.0 328.60h9.3M1382.6 328.60h-9.3M820.0 282.00h9.3M1382.6 282.00h-9.3" fill="none" stroke="#000" stroke-width="2.5"/>
<path d="M813.5 776.7l13.0 10.6m0 -10.6l-13.0 10.6M815.8 776.7l13.0 10.6m0 -10.6l-13.0 10.6M818.1 776.7l13.0 10.6m0 -10.6l-13.0 10.6M820.4 776.7l13.0 10.6m0 -10.6l-13.0 10.6M822.7 776.7l13.0 10.6m0 -10.6l-13.0 10.6M825.0 776.7l13.0 10.6m0 -10.6l-13.0 10.6M827.3 776.7l13.0 10.6m0 -10.6l-13.0 10.6M829.6 776.7l13.0 10.6m0 -10.6l-13.0 10.6M831.9 776.7l13.0 10.6m0 -10.6l-13.0 10.6M834.2 776.7l13.0 10.6m0 -10.6l-13.0 10.6M836.5 776.7l13.0 10.6m0 -10.6l-13.0 10.6M838.8 776.7l13.0 10.6m0 -10.6l-13.0 10.6M841.1 776.7l13.0 10.6m0 -10.6l-13.0 10.6M843.4 776.7l13.0 10.6m0 -10.6l-13.0 10.6M845.7 776.7l13.0 10.6m0 -10.6l-13.0 10.6M848.0 776.7l13.0 10.6m0 -10.6l-13.0 10.6M850.3 776.7l13.0 10.6m0 -10.6l-13.0 10.6M852.6 776.7l13.0 10.6m0 -10.6l-13.0 10.6M854.9 776.7l13.0 10.6m0 -10.6l-13.0 10.6M857.2 776.7l13.0 10.6m0 -10.6l-13.0 10.6M859.5 776.7l13.0 10.6m0 -10.6l-13.0 10.6M861.8 776.7l13.0 10.6m0 -10.6l-13.0 10.6M864.1 776.7l13.0 10.6m0 -10.6l-13.0 10.6M866.4 776.7l13.0 10.6m0 -10.6l-13.0 10.6M868.7 776.7l13.0 10.6m0 -10.6l-13.0 10.6M871.0 776.7l13.0 10.6m0 -10.6l-13.0 10.6M873.3 776.7l13.0 10.6m0 -10.6l-13.0 10.6M875.6 776.7l13.0 10.6m0 -10.6l-13.0 10.6M877.9 776.7l13.0 10.6m0 -10.6l-13.0 10.6M880.2 776.7l13.0 10.6m0 -10.6l-13.0 10.6M882.5 776.7l13.0 10.6m0 -10.6l-13.0 10.6M884.8 776.7l13.0 10.6m0 -10.6l-13.0 10.6M887.1 776.7l13.0 10.6m0 -10.6l-13.0 10.6M887.8 773.9l13.0 10.6m0 -10.6l-13.0 10.6M890.6 773.0l13.0 10.6m0 -10.6l-13.0 10.6M894.0 771.9l13.0 10.6m0 -10.6l-13.0 10.6M898.0 770.7l13.0 10.6m0 -10.6l-13.0 10.6M902.5 769.4l13.0 10.6m0 -10.6l-13.0 10.6M907.4 767.9l13.0 10.6m0 -10.6l-13.0 10.6M912.7 766.0l13.0 10.6m0 -10.6l-13.0 10.6M918.2 763.7l13.0 10.6m0 -10.6l-13.0 10.6M923.8 761.1l13.0 10.6m0 -10.6l-13.0 10.6M929.4 758.2l13.0 10.6m0 -10.6l-13.0 10.6M935.0 755.1l13.0 10.6m0 -10.6l-13.0 10.6M940.6 751.6l13.0 10.6m0 -10.6l-13.0 10.6M946.2 747.9l13.0 10.6m0 -10.6l-13.0 10.6M951.7 744.0l13.0 10.6m0 -10.6l-13.0 10.6M957.0 740.0l13.0 10.6m0 -10.6l-13.0 10.6M962.6 736.4l13.0 10.6m0 -10.6l-13.0 10.6M967.9 732.7l13.0 10.6m0 -10.6l-13.0 10.6M973.1 728.9l13.0 10.6m0 -10.6l-13.0 10.6M978.0 724.9l13.0 10.6m0 -10.6l-13.0 10.6M982.8 721.0l13.0 10.6m0 -10.6l-13.0 10.6M987.4 716.9l13.0 10.6m0 -10.6l-13.0 10.6M991.8 712.8l13.0 10.6m0 -10.6l-13.0 10.6M996.0 708.5l13.0 10.6m0 -10.6l-13.0 10.6M1000.0 704.3l13.0 10.6m0 -10.6l-13.0 10.6M1004.0 700.1l13.0 10.6m0 -10.6l-13.0 10.6M1007.8 695.9l13.0 10.6m0 -10.6l-13.0 10.6M1011.4 691.6l13.0 10.6m0 -10.6l-13.0 10.6M1015.0 687.3l13.0 10.6m0 -10.6l-13.0 10.6M1018.6 683.0l13.0 10.6m0 -10.6l-13.0 10.6M1022.1 678.7l13.0 10.6m0 -10.6l-13.0 10.6M1025.7 674.4l13.0 10.6m0 -10.6l-13.0 10.6M1029.2 670.2l13.0 10.6m0 -10.6l-13.0 10.6M1032.7 665.9l13.0 10.6m0 -10.6l-13.0 10.6M1036.3 661.7l13.0 10.6m0 -10.6l-13.0 10.6M1039.8 657.5l13.0 10.6m0 -10.6l-13.0 10.6M1043.4 653.3l13.0 10.6m0 -10.6l-13.0 10.6M1047.0 649.1l13.0 10.6m0 -10.6l-13.0 10.6M1050.7 644.9l13.0 10.6m0 -10.6l-13.0 10.6M1054.4 640.7l13.0 10.6m0 -10.6l-13.0 10.6M1058.2 636.4l13.0 10.6m0 -10.6l-13.0 10.6M1062.2 632.2l13.0 10.6m0 -10.6l-13.0 10.6M1066.3 628.0l13.0 10.6m0 -10.6l-13.0 10.6M1070.5 623.8l13.0 10.6m0 -10.6l-13.0 10.6M1074.8 619.7l13.0 10.6m0 -10.6l-13.0 10.6M1079.3 615.6l13.0 10.6m0 -10.6l-13.0 10.6M1083.8 611.3l13.0 10.6m0 -10.6l-13.0 10.6M1088.6 606.9l13.0 10.6m0 -10.6l-13.0 10.6M1093.5 602.2l13.0 10.6m0 -10.6l-13.0 10.6M1099.8 596.2l13.0 10.6m0 -10.6l-13.0 10.6M1106.0 592.5l13.0 10.6m0 -10.6l-13.0 10.6M1113.5 588.0l13.0 10.6m0 -10.6l-13.0 10.6M1121.2 584.0l13.0 10.6m0 -10.6l-13.0 10.6M1129.2 580.0l13.0 10.6m0 -10.6l-13.0 10.6M1137.5 576.0l13.0 10.6m0 -10.6l-13.0 10.6M1147.0 572.5l13.0 10.6m0 -10.6l-13.0 10.6M1156.8 568.7l13.0 10.6m0 -10.6l-13.0 10.6M1168.0 564.5l13.0 10.6m0 -10.6l-13.0 10.6M1181.0 561.0l13.0 10.6m0 -10.6l-13.0 10.6M1195.5 557.3l13.0 10.6m0 -10.6l-13.0 10.6M1211.2 553.1l13.0 10.6m0 -10.6l-13.0 10.6M1230.3 549.1l13.0 10.6m0 -10.6l-13.0 10.6M1241.3 548.3l13.0 10.6m0 -10.6l-13.0 10.6M1370.7 543.4l13.0 10.6m0 -10.6l-13.0 10.6M1361.8 543.4l13.0 10.6m0 -10.6l-13.0 10.6M1352.8 543.4l13.0 10.6m0 -10.6l-13.0 10.6M1343.9 543.4l13.0 10.6m0 -10.6l-13.0 10.6M1335.0 543.4l13.0 10.6m0 -10.6l-13.0 10.6M1326.0 543.4l13.0 10.6m0 -10.6l-13.0 10.6M1317.1 543.4l13.0 10.6m0 -10.6l-13.0 10.6M1308.2 543.4l13.0 10.6m0 -10.6l-13.0 10.6M1299.3 543.4l13.0 10.6m0 -10.6l-13.0 10.6M1290.3 543.4l13.0 10.6m0 -10.6l-13.0 10.6M1281.4 543.4l13.0 10.6m0 -10.6l-13.0 10.6M1272.5 543.4l13.0 10.6m0 -10.6l-13.0 10.6M1263.5 543.4l13.0 10.6m0 -10.6l-13.0 10.6M1254.6 543.4l13.0 10.6m0 -10.6l-13.0 10.6M1245.7 543.4l13.0 10.6m0 -10.6l-13.0 10.6" fill="none" stroke="#FFB600" stroke-width="2.4"/>
<path d="M820.3 779.21L822.3 779.36L824.3 779.50L826.3 779.64L828.3 779.78L830.3 779.90L832.3 780.02L834.3 780.14L836.3 780.24L838.3 780.34L840.3 780.43L842.3 780.50L844.3 780.57L846.3 780.63L848.3 780.68L850.3 780.71L852.3 780.74L854.3 780.75L856.3 780.75L858.3 780.74L860.3 780.71L862.3 780.66L864.3 780.61L866.3 780.53L868.3 780.45L870.3 780.34L872.3 780.22L874.3 780.08L876.3 779.92L878.3 779.75L880.3 779.55L882.3 779.34L884.3 779.11L886.3 778.85L888.3 778.58L890.3 778.28L892.3 777.97L894.3 777.63L896.3 777.26L898.3 776.88L900.3 776.47L902.3 776.03L904.3 775.58L906.3 775.09L908.3 774.58L910.3 774.05L912.3 773.48L914.3 772.89L916.3 772.27L918.3 771.63L920.3 770.95L922.3 770.25L924.3 769.51L926.3 768.75L928.3 767.95L930.3 767.12L932.3 766.27L934.3 765.37L936.3 764.45L938.3 763.49L940.3 762.50L942.3 761.48L944.3 760.42L946.3 759.32L948.3 758.19L950.3 757.02L952.3 755.82L954.3 754.58L956.3 753.30L958.3 751.98L960.3 750.62L962.3 749.23L964.3 747.79L966.3 746.31L968.3 744.80L970.3 743.24L972.3 741.64L974.3 740.00L976.3 738.31L978.3 736.58L980.3 734.81L982.3 733.00L984.3 731.13L986.3 729.23L988.3 727.27L990.3 725.28L992.3 723.23L994.3 721.14L996.3 719.01L998.3 716.84L1000.3 714.64L1002.3 712.40L1004.3 710.13L1006.3 707.83L1008.3 705.51L1010.3 703.16L1012.3 700.79L1014.3 698.41L1016.3 696.00L1018.3 693.59L1020.3 691.16L1022.3 688.72L1024.3 686.28L1026.3 683.84L1028.3 681.39L1030.3 678.95L1032.3 676.51L1034.3 674.08L1036.3 671.65L1038.3 669.24L1040.3 666.84L1042.3 664.46L1044.3 662.10L1046.3 659.76L1048.3 657.44L1050.3 655.14L1052.3 652.87L1054.3 650.62L1056.3 648.39L1058.3 646.20L1060.3 644.03L1062.3 641.90L1064.3 639.79L1066.3 637.73L1068.3 635.69L1070.3 633.69L1072.3 631.73L1074.3 629.81L1076.3 627.92L1078.3 626.07L1080.3 624.25L1082.3 622.47L1084.3 620.72L1086.3 619.00L1088.3 617.32L1090.3 615.66L1092.3 614.04L1094.3 612.44L1096.3 610.87L1098.3 609.33L1100.3 607.82L1102.3 606.33L1104.3 604.87L1106.3 603.43L1108.3 602.02L1110.3 600.63L1112.3 599.25L1114.3 597.90L1116.3 596.58L1118.3 595.27L1120.3 593.99L1122.3 592.74L1124.3 591.50L1126.3 590.29L1128.3 589.11L1130.3 587.95L1132.3 586.82L1134.3 585.71L1136.3 584.63L1138.3 583.58L1140.3 582.56L1142.3 581.56L1144.3 580.59L1146.3 579.65L1148.3 578.73L1150.3 577.84L1152.3 576.97L1154.3 576.13L1156.3 575.31L1158.3 574.52L1160.3 573.75L1162.3 573.00L1164.3 572.27L1166.3 571.56L1168.3 570.88L1170.3 570.21L1172.3 569.56L1174.3 568.93L1176.3 568.32L1178.3 567.73L1180.3 567.15L1182.3 566.59L1184.3 566.04L1186.3 565.51L1188.3 565.00L1190.3 564.50L1192.3 564.01L1194.3 563.53L1196.3 563.07L1198.3 562.62L1200.3 562.18L1202.3 561.75L1204.3 561.33L1206.3 560.92L1208.3 560.52L1210.3 560.13L1212.3 559.76L1214.3 559.39L1216.3 559.03L1218.3 558.68L1220.3 558.34L1222.3 558.01L1224.3 557.68L1226.3 557.37L1228.3 557.06L1230.3 556.77L1232.3 556.48L1234.3 556.20L1236.3 555.93L1238.3 555.66L1240.3 555.41L1242.3 555.16L1244.3 554.92L1246.3 554.69L1248.3 554.46L1250.3 554.24L1252.3 554.03L1254.3 553.83L1256.3 553.63L1258.3 553.44L1260.3 553.25L1262.3 553.07L1264.3 552.90L1266.3 552.73L1268.3 552.57L1270.3 552.41L1272.3 552.26L1274.3 552.12L1276.3 551.98L1278.3 551.84L1280.3 551.72L1282.3 551.59L1284.3 551.47L1286.3 551.35L1288.3 551.24L1290.3 551.14L1292.3 551.03L1294.3 550.93L1296.3 550.84L1298.3 550.75L1300.3 550.66L1302.3 550.57L1304.3 550.49L1306.3 550.41L1308.3 550.34L1310.3 550.27L1312.3 550.20L1314.3 550.13L1316.3 550.06L1318.3 550.00L1320.3 549.94L1322.3 549.88L1324.3 549.82L1326.3 549.76L1328.3 549.71L1330.3 549.66L1332.3 549.60L1334.3 549.55L1336.3 549.50L1338.3 549.45L1340.3 549.41L1342.3 549.36L1344.3 549.31L1346.3 549.26L1348.3 549.21L1350.3 549.16L1352.3 549.12L1354.3 549.07L1356.3 549.02L1358.3 548.97L1360.3 548.92L1362.3 548.86L1364.3 548.81L1366.3 548.76L1368.3 548.70L1370.3 548.64L1372.3 548.58L1374.3 548.52L1376.3 548.46L1377.2 548.43" fill="none" stroke="#0000FF" stroke-width="4.0" stroke-linejoin="round" clip-path="url(#cr2)"/>
<rect x="820.0" y="544.0" width="562.60" height="242.40" fill="none" stroke="#000" stroke-width="2.5"/>
<path d="M875.72 544.0v16M875.72 786.4v-16M931.44 544.0v8.5M931.44 786.4v-8.5M987.16 544.0v16M987.16 786.4v-16M1042.88 544.0v8.5M1042.88 786.4v-8.5M1098.60 544.0v16M1098.60 786.4v-16M1154.32 544.0v8.5M1154.32 786.4v-8.5M1210.04 544.0v16M1210.04 786.4v-16M1265.76 544.0v8.5M1265.76 786.4v-8.5M1321.48 544.0v16M1321.48 786.4v-16M1377.20 544.0v8.5M1377.20 786.4v-8.5M820.0 781.90h9.3M1382.6 781.90h-9.3M820.0 735.26h9.3M1382.6 735.26h-9.3M820.0 688.62h9.3M1382.6 688.62h-9.3M820.0 641.98h9.3M1382.6 641.98h-9.3M820.0 595.34h9.3M1382.6 595.34h-9.3M820.0 548.70h9.3M1382.6 548.70h-9.3" fill="none" stroke="#000" stroke-width="2.5"/>
<text x="155.6" y="261.0" font-size="31.5" text-anchor="end">0</text>
<text x="155.6" y="214.4" font-size="31.5" text-anchor="end">20</text>
<text x="155.6" y="167.8" font-size="31.5" text-anchor="end">40</text>
<text x="155.6" y="121.2" font-size="31.5" text-anchor="end">60</text>
<text x="155.6" y="74.6" font-size="31.5" text-anchor="end">80</text>
<text x="155.6" y="28.0" font-size="31.5" text-anchor="end">100</text>
<text x="155.6" y="527.8" font-size="31.5" text-anchor="end">0</text>
<text x="155.6" y="481.2" font-size="31.5" text-anchor="end">20</text>
<text x="155.6" y="434.6" font-size="31.5" text-anchor="end">40</text>
<text x="155.6" y="388.0" font-size="31.5" text-anchor="end">60</text>
<text x="155.6" y="341.4" font-size="31.5" text-anchor="end">80</text>
<text x="155.6" y="294.8" font-size="31.5" text-anchor="end">100</text>
<text x="155.6" y="794.7" font-size="31.5" text-anchor="end">0</text>
<text x="155.6" y="748.06" font-size="31.5" text-anchor="end">20</text>
<text x="155.6" y="701.42" font-size="31.5" text-anchor="end">40</text>
<text x="155.6" y="654.78" font-size="31.5" text-anchor="end">60</text>
<text x="155.6" y="608.14" font-size="31.5" text-anchor="end">80</text>
<text x="155.6" y="561.5" font-size="31.5" text-anchor="end">100</text>
<text x="172.5" y="826.7" font-size="31.5" text-anchor="middle">0</text>
<text x="829.1" y="826.2" font-size="31.5" text-anchor="middle">0</text>
<text x="277.5" y="826.7" font-size="31.5" text-anchor="middle">2</text>
<text x="933.4" y="826.2" font-size="31.5" text-anchor="middle">2</text>
<text x="390" y="826.7" font-size="31.5" text-anchor="middle">4</text>
<text x="1046.6" y="826.2" font-size="31.5" text-anchor="middle">4</text>
<text x="503" y="826.7" font-size="31.5" text-anchor="middle">6</text>
<text x="1160" y="826.2" font-size="31.5" text-anchor="middle">6</text>
<text x="616.8" y="826.7" font-size="31.5" text-anchor="middle">8</text>
<text x="1273" y="826.2" font-size="31.5" text-anchor="middle">8</text>
<text x="722" y="826.7" font-size="31.5" text-anchor="middle">10</text>
<text x="1378" y="826.2" font-size="31.5" text-anchor="middle">10</text>
<text x="439.8" y="863.6" font-size="31.5" text-anchor="middle">Time (s)</text>
<text x="1097.2" y="867.1" font-size="31.5" text-anchor="middle">Time (s)</text>
<text transform="translate(85.4 401) rotate(-90)" font-size="31.3" text-anchor="middle">Fraction crystallized (%)</text>
<text x="4" y="264.5" font-size="32" text-anchor="start" font-weight="bold">(a)</text>
<text x="4" y="531" font-size="32" text-anchor="start" font-weight="bold">(c)</text>
<text x="4.6" y="799.6" font-size="32" text-anchor="start" font-weight="bold">(e)</text>
<text x="763" y="268" font-size="32" text-anchor="start" font-weight="bold">(b)</text>
<text x="763" y="534.8" font-size="32" text-anchor="start" font-weight="bold">(d)</text>
<text x="763" y="804" font-size="32" text-anchor="start" font-weight="bold">(f)</text>
<ellipse cx="1065.5" cy="96.3" rx="10.4" ry="9.3" fill="#FFB600"/>
<path d="M1059.1 143.4l13.0 10.6m0 -10.6l-13.0 10.6" stroke="#FFB600" stroke-width="2.4" fill="none"/>
<path d="M1046.9 197.4H1084.4" stroke="#0000FF" stroke-width="4.0"/>
<text x="1103.3" y="105.8" font-size="27.4" text-anchor="start">Experimental</text>
<text x="1103.0" y="158.2" font-size="27.4" text-anchor="start">Interpolation</text>
<text x="1102.9" y="211.2" font-size="27.4" text-anchor="start">GPSR</text>
</svg>
</body></html>
